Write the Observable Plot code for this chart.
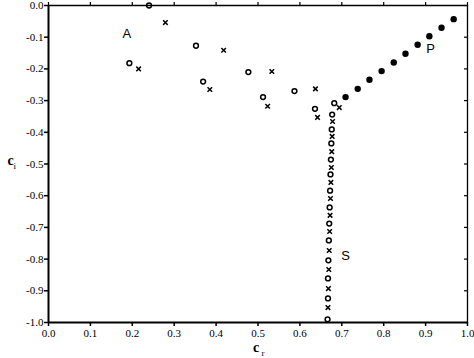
<!DOCTYPE html>
<html>
<head>
<meta charset="utf-8">
<script src="https://cdn.jsdelivr.net/npm/d3@7"></script>
<script src="https://cdn.jsdelivr.net/npm/@observablehq/plot@0.6"></script>
<style>
  html, body { margin: 0; padding: 0; background: #fff; }
</style>
</head>
<body>
<div id="chart"></div>
<script>
const xTicks = [0, 0.1, 0.2, 0.3, 0.4, 0.5, 0.6, 0.7, 0.8, 0.9, 1.0];
const yTicks = [0, -0.1, -0.2, -0.3, -0.4, -0.5, -0.6, -0.7, -0.8, -0.9, -1.0];

// open circles
const openCr = [0.193, 0.240, 0.352, 0.369, 0.477, 0.512, 0.587, 0.636, 0.682,
  0.677, 0.676, 0.675, 0.674, 0.673, 0.672, 0.671, 0.670, 0.669, 0.668, 0.667, 0.667, 0.666];
const openCi = [-0.182, 0.0, -0.127, -0.240, -0.210, -0.289, -0.270, -0.326, -0.308,
  -0.344, -0.391, -0.435, -0.486, -0.533, -0.584, -0.637, -0.688, -0.741, -0.804, -0.861, -0.924, -0.990];

// crosses
const crossCr = [0.215, 0.279, 0.418, 0.385, 0.533, 0.523, 0.637, 0.642, 0.694,
  0.678, 0.677, 0.676, 0.675, 0.674, 0.673, 0.672, 0.671, 0.670, 0.669, 0.668, 0.667];
const crossCi = [-0.200, -0.054, -0.141, -0.265, -0.208, -0.318, -0.263, -0.353, -0.322,
  -0.366, -0.413, -0.461, -0.511, -0.558, -0.609, -0.662, -0.713, -0.773, -0.833, -0.893, -0.953];

// filled circles
const filledCr = [0.709, 0.738, 0.766, 0.795, 0.824, 0.852, 0.881, 0.909, 0.938, 0.967];
const filledCi = [-0.289, -0.263, -0.234, -0.207, -0.180, -0.152, -0.124, -0.097, -0.070, -0.043];

// annotations
const labelText = ["A", "P", "S"];
const labelCr = [0.187, 0.912, 0.709];
const labelCi = [-0.088, -0.136, -0.789];

const openData = openCr.map((x, i) => ({x, y: openCi[i]}));
const crossData = crossCr.map((x, i) => ({x, y: crossCi[i]}));
const filledData = filledCr.map((x, i) => ({x, y: filledCi[i]}));
const labels = labelText.map((t, i) => ({t, x: labelCr[i], y: labelCi[i]}));

const fmt = d => d.toFixed(1);

const chart = Plot.plot({
  width: 474,
  height: 358,
  marginLeft: 48,
  marginRight: 7,
  marginTop: 5,
  marginBottom: 36,
  style: {fontFamily: "Liberation Serif", fontSize: "11px", background: "#fff", color: "#000"},
  x: {domain: [0, 1]},
  y: {domain: [-1, 0]},
  marks: [
    Plot.axisX({anchor: "bottom", ticks: xTicks, tickFormat: fmt, tickSize: 4, tickPadding: 3, label: null, fontSize: 11, strokeWidth: 1.5}),
    Plot.axisX({anchor: "top", ticks: xTicks, tickFormat: () => "", tickSize: 4, label: null, strokeWidth: 1.2}),
    Plot.axisY({anchor: "left", ticks: yTicks, tickFormat: fmt, tickSize: 4, tickPadding: 1, label: null, fontSize: 11, strokeWidth: 1.5}),
    Plot.axisY({anchor: "right", ticks: yTicks, tickFormat: () => "", tickSize: -4, label: null, strokeWidth: 1.2}),
    Plot.ruleX([0], {strokeWidth: 2}),
    Plot.ruleY([-1], {strokeWidth: 2}),
    Plot.ruleX([1], {strokeWidth: 1.3}),
    Plot.ruleY([0], {strokeWidth: 1.3}),
    Plot.dot(openData, {x: "x", y: "y", r: 2.4, stroke: "#000", strokeWidth: 1.5, fill: "none"}),
    Plot.dot(crossData, {x: "x", y: "y", r: 2.2, symbol: "times", stroke: "#000", strokeWidth: 1.5}),
    Plot.dot(filledData, {x: "x", y: "y", r: 3.2, fill: "#000", stroke: "none"}),
    Plot.text(labels, {x: "x", y: "y", text: "t", fontFamily: "Liberation Sans", fontSize: 13, fill: "#000"}),
    // axis titles: c with subscript
    Plot.text(["c"], {frameAnchor: "left", dx: -41, dy: -3, fontSize: 14, fontWeight: "bold", fill: "#000"}),
    Plot.text(["i"], {frameAnchor: "left", dx: -35, dy: 2, fontSize: 9, fill: "#000"}),
    Plot.text(["c"], {frameAnchor: "bottom", dx: -2, dy: 29, fontSize: 14, fontWeight: "bold", fill: "#000"}),
    Plot.text(["r"], {frameAnchor: "bottom", dx: 5, dy: 33, fontSize: 9, fill: "#000"})
  ]
});
document.getElementById("chart").appendChild(chart);
</script>
</body>
</html>
